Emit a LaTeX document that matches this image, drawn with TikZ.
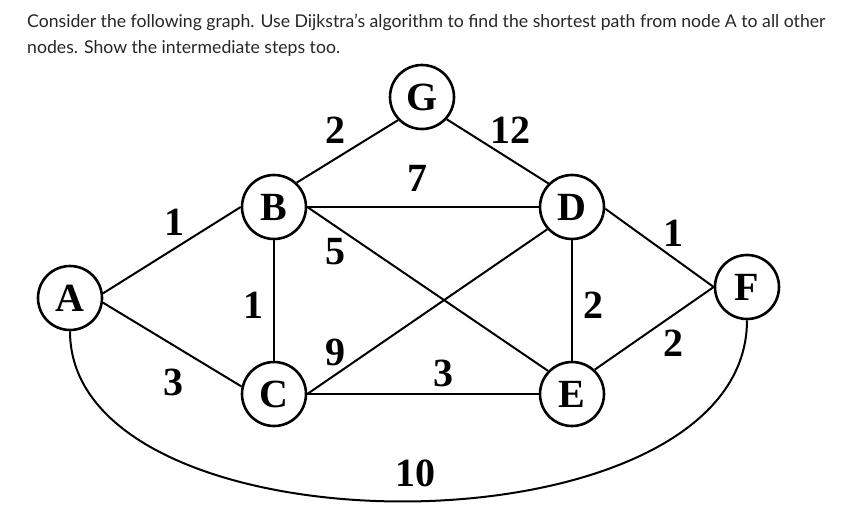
\documentclass[tikz,border=0pt]{standalone}
\usepackage{fontspec}
\setmainfont{Liberation Serif}
\newfontfamily\qfont{Lato}
\begin{document}
\begin{tikzpicture}[x=1pt,y=-1pt,
  vtx/.style={circle,draw,line width=2.6pt,minimum size=64pt,inner sep=0pt,font=\fontsize{40}{40}\selectfont\bfseries},
  wt/.style={inner sep=0pt,font=\fontsize{40}{40}\selectfont\bfseries},
  edge/.style={line width=2pt},
  qtext/.style={anchor=base west,inner sep=0pt,font=\qfont\fontsize{17.65}{20}\selectfont,text=black!85}]
\useasboundingbox (0,0) rectangle (867,512);
\node[qtext] (q1) at (27,27) {Consider the following graph. Use Dijkstra’s algorithm to find the shortest path from node A to all other};
\node[qtext] (q2) at (27,53) {nodes. Show the intermediate steps too.};
\node[vtx] (A) at (70,298) {A};
\node[vtx] (B) at (274,207) {B};
\node[vtx] (C) at (274,394) {C};
\node[vtx] (G) at (422,97) {G};
\node[vtx] (D) at (572,207) {D};
\node[vtx] (E) at (572,394) {E};
\node[vtx] (F) at (747,287) {F};
\draw[edge] (A.8) -- (B.180);
\draw[edge] (A.-8) -- (C.167);
\draw[edge] (B.47) -- (G.224);
\draw[edge] (G.-42) -- (D.135);
\draw[edge] (B.east) -- (D.west);
\draw[edge] (B.0) -- (E.136);
\draw[edge] (B.south) -- (C.north);
\draw[edge] (C.0) -- (D.222);
\draw[edge] (C.east) -- (E.west);
\draw[edge] (D.south) -- (E.north);
\draw[edge] (D.-3) -- (F.180);
\draw[edge] (E.47) -- (F.180);
\draw[edge] (A.south) .. controls (70,560) and (747,560) .. (F.south);
\node[wt] (w1) at (174,222) {1};
\node[wt] (w2) at (173,382) {3};
\node[wt] (w3) at (335,130) {2};
\node[wt] (w4) at (417,178) {7};
\node[wt] (w5) at (335,252) {5};
\node[wt] (w6) at (253,305) {1};
\node[wt] (w7) at (335,352) {9};
\node[wt] (w8) at (443,373) {3};
\node[wt] (w9) at (510,130) {12};
\node[wt] (w10) at (673,233) {1};
\node[wt] (w11) at (593,305) {2};
\node[wt] (w12) at (673,343) {2};
\node[wt] (w13) at (415,473) {10};
\end{tikzpicture}
\end{document}
